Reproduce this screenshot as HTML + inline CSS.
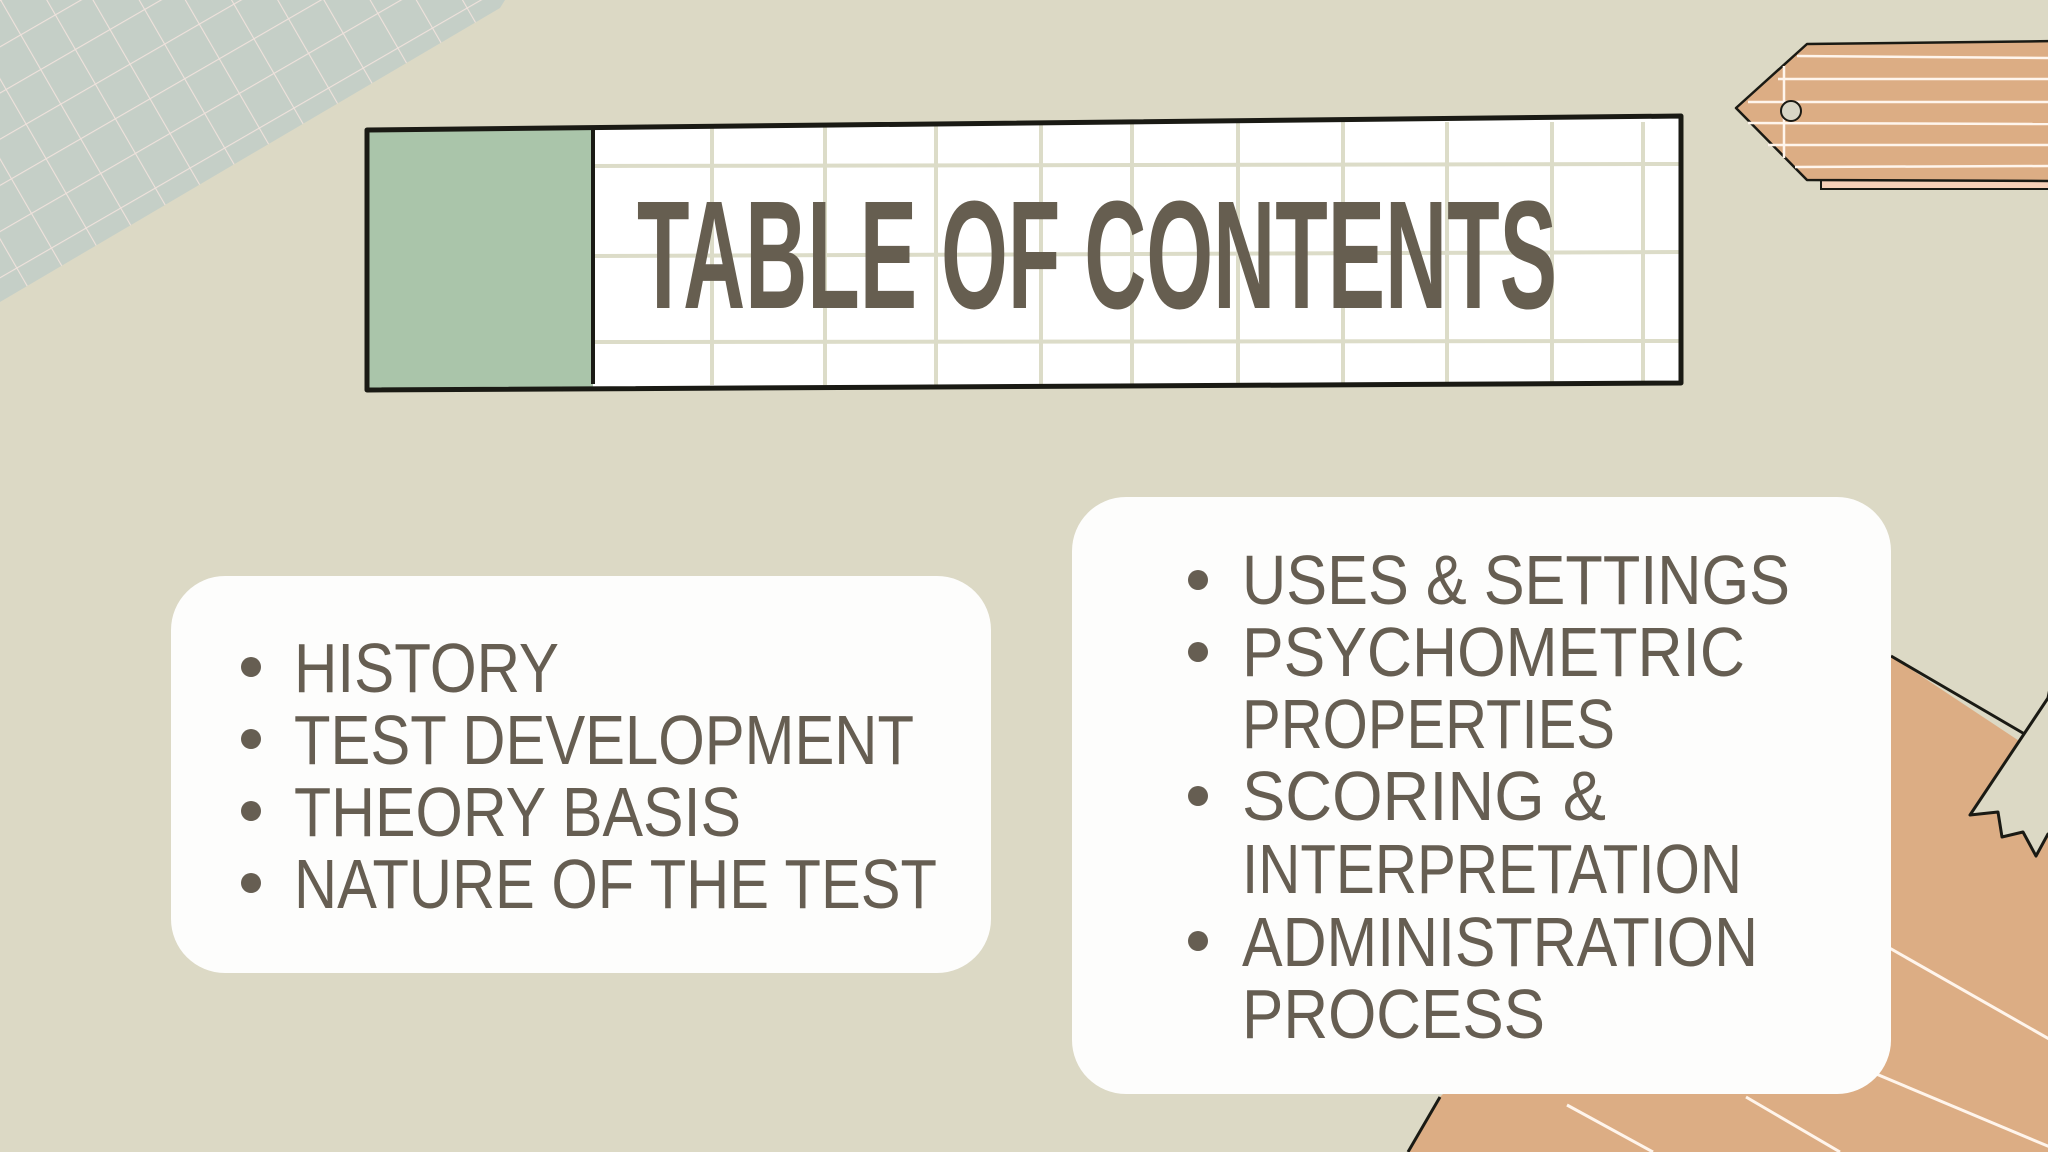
<!DOCTYPE html>
<html><head><meta charset="utf-8"><style>
html,body{margin:0;padding:0;background:#dcd9c5;}
svg{display:block;}
.t{font-family:"Liberation Sans",sans-serif;font-size:70px;fill:#665e52;}
</style></head><body>
<svg width="2048" height="1152" viewBox="0 0 2048 1152" xmlns="http://www.w3.org/2000/svg">
<defs>
<pattern id="g" width="40" height="40" patternUnits="userSpaceOnUse" patternTransform="rotate(-30)">
<rect width="40" height="40" fill="#c5cfc7"/>
<path d="M0 0H40M0 0V40" stroke="#efe2dc" stroke-width="2.2"/>
</pattern>
<clipPath id="oc"><polygon points="1408,1152 1440,1097 1891,656 2048,760 2048,1152"/></clipPath>
</defs>
<rect width="2048" height="1152" fill="#dcd9c5"/>
<!-- grid patch -->
<polygon points="0,0 505,0 500,8 0,302" fill="url(#g)"/>

<!-- orange bottom-right -->
<polygon points="1408,1152 1440,1097 1891,656 2048,760 2048,1152" fill="#dcad84"/>
<g clip-path="url(#oc)" stroke="#fff5ec" stroke-width="3">
<line x1="1700" y1="840" x2="2100" y2="1068"/>
<line x1="1700" y1="1000" x2="2100" y2="1168"/>
<line x1="1567" y1="1105" x2="1653" y2="1152"/>
<line x1="1746" y1="1097" x2="1840" y2="1152"/>
</g>
<line x1="1891" y1="656" x2="2028" y2="736" stroke="#1a1a14" stroke-width="3"/>
<line x1="1440" y1="1097" x2="1408" y2="1152" stroke="#1a1a14" stroke-width="3"/>
<!-- grey torn piece -->
<polygon points="2060,640 2048,698 1970,815 1998,812 2002,837 2023,832 2036,856 2048,834 2060,830" fill="#dcd9c5" stroke="#1a1a14" stroke-width="3" stroke-linejoin="round"/>

<!-- top-right tag -->
<rect x="1821" y="176" width="240" height="13" fill="#f6d0b8" stroke="#1a1a14" stroke-width="2"/>
<polygon points="1736,108 1807,44 2060,41 2060,181 1807,180" fill="#dcad84" stroke="#1a1a14" stroke-width="2.5" stroke-linejoin="round"/>
<g stroke="#fff5ec" stroke-width="2.5">
<line x1="1797" y1="56" x2="2048" y2="58"/>
<line x1="1778" y1="79" x2="2048" y2="79"/>
<line x1="1748" y1="102" x2="2048" y2="102"/>
<line x1="1748" y1="123" x2="2048" y2="124"/>
<line x1="1768" y1="145" x2="2048" y2="145"/>
<line x1="1795" y1="167" x2="2048" y2="166"/>
<line x1="1784" y1="66" x2="1784" y2="158"/>
</g>
<circle cx="1791" cy="111" r="10" fill="#d8d6c6" stroke="#1a1a14" stroke-width="2"/>

<!-- title box -->
<polygon points="367,130 1681,116 1681,383 367,390" fill="#fff"/>
<g stroke="#dcdcc8" stroke-width="4">
<line x1="712" y1="122" x2="712" y2="385"/><line x1="825" y1="122" x2="825" y2="385"/>
<line x1="936" y1="122" x2="936" y2="385"/><line x1="1041" y1="122" x2="1041" y2="385"/>
<line x1="1132" y1="122" x2="1132" y2="385"/><line x1="1238" y1="122" x2="1238" y2="385"/>
<line x1="1343" y1="122" x2="1343" y2="385"/><line x1="1447" y1="122" x2="1447" y2="385"/>
<line x1="1552" y1="122" x2="1552" y2="385"/><line x1="1643" y1="122" x2="1643" y2="385"/>
<line x1="594" y1="166" x2="1681" y2="164"/><line x1="594" y1="256" x2="1681" y2="252"/>
<line x1="594" y1="342" x2="1681" y2="341"/>
</g>
<polygon points="367,130 593,128 593,389 367,390" fill="#aac5aa"/>
<polygon points="367,130 1681,116 1681,383 367,390" fill="none" stroke="#1a1a14" stroke-width="5" stroke-linejoin="round"/>
<line x1="593" y1="128" x2="593" y2="384" stroke="#1a1a14" stroke-width="4"/>
<text x="637" y="308" textLength="920" lengthAdjust="spacingAndGlyphs" style="font-family:'Liberation Sans Narrow','Liberation Sans',sans-serif;font-weight:bold;font-size:154px;fill:#665e50;">TABLE OF CONTENTS</text>

<!-- left box -->
<rect x="171" y="576" width="820" height="397" rx="54" fill="#fdfdfc"/>
<g fill="#665e52">
<circle cx="251" cy="667" r="10"/><circle cx="251" cy="739" r="10"/>
<circle cx="251" cy="811" r="10"/><circle cx="251" cy="883" r="10"/>
</g>
<text class="t" x="294" y="692" textLength="265" lengthAdjust="spacingAndGlyphs">HISTORY</text>
<text class="t" x="294" y="764" textLength="620" lengthAdjust="spacingAndGlyphs">TEST DEVELOPMENT</text>
<text class="t" x="294" y="836" textLength="447" lengthAdjust="spacingAndGlyphs">THEORY BASIS</text>
<text class="t" x="294" y="908" textLength="643" lengthAdjust="spacingAndGlyphs">NATURE OF THE TEST</text>

<!-- right box -->
<rect x="1072" y="497" width="819" height="597" rx="54" fill="#fdfdfc"/>
<g fill="#665e52">
<circle cx="1198" cy="580" r="10"/><circle cx="1198" cy="652" r="10"/>
<circle cx="1198" cy="796" r="10"/><circle cx="1198" cy="941" r="10"/>
</g>
<text class="t" x="1242" y="604" textLength="548" lengthAdjust="spacingAndGlyphs">USES &amp; SETTINGS</text>
<text class="t" x="1242" y="676" textLength="503" lengthAdjust="spacingAndGlyphs">PSYCHOMETRIC</text>
<text class="t" x="1242" y="748" textLength="373" lengthAdjust="spacingAndGlyphs">PROPERTIES</text>
<text class="t" x="1242" y="820" textLength="364" lengthAdjust="spacingAndGlyphs">SCORING &amp;</text>
<text class="t" x="1242" y="893" textLength="500" lengthAdjust="spacingAndGlyphs">INTERPRETATION</text>
<text class="t" x="1242" y="966" textLength="516" lengthAdjust="spacingAndGlyphs">ADMINISTRATION</text>
<text class="t" x="1242" y="1038" textLength="303" lengthAdjust="spacingAndGlyphs">PROCESS</text>
</svg>
</body></html>
